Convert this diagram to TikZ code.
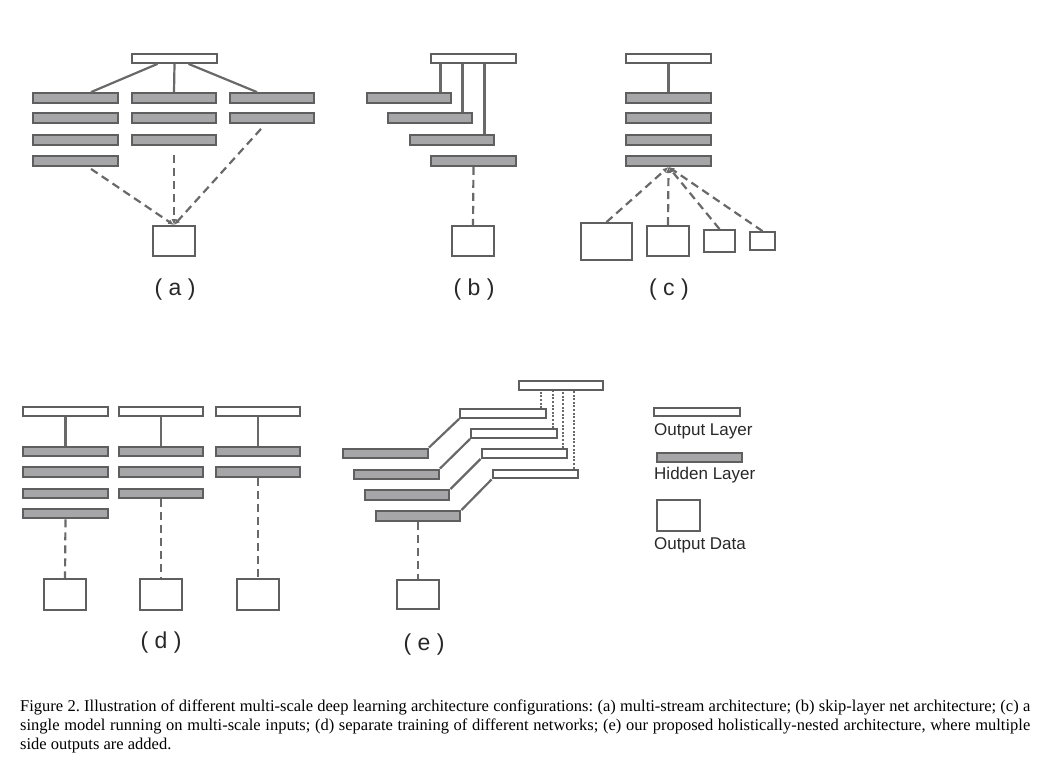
\documentclass[tikz,border=0pt]{standalone}
\usepackage{fontspec}
\setmainfont{Liberation Serif}
\newfontfamily\labelfont{Liberation Sans}
\usetikzlibrary{calc,arrows.meta}
\definecolor{hidgray}{RGB}{166,166,168}
\definecolor{rahmen}{RGB}{95,95,95}
\definecolor{linie}{RGB}{105,105,105}
\definecolor{schrift}{RGB}{40,40,40}
\begin{document}
\begin{tikzpicture}[x=1pt, y=-1pt,
	outlayer/.style={draw=rahmen, fill=white, line width=2.3pt, minimum width=84.5pt, minimum height=8.5pt, inner sep=0pt},
	hidlayer/.style={outlayer, fill=hidgray, minimum height=9.5pt},
	outdata/.style={draw=rahmen, fill=white, line width=2.3pt, minimum width=41.5pt, minimum height=29.5pt, inner sep=0pt},
	conn/.style={draw=linie, line width=2.2pt},
	dashconn/.style={conn, dash pattern=on 8pt off 5pt},
	dotconn/.style={draw=linie, line width=2pt, dash pattern=on 2pt off 1.6pt},
	pfeil/.style={-{Latex[length=6pt,width=5pt]}},
	sublabel/.style={font=\labelfont\fontsize{23}{26}\selectfont, text=schrift},
	legtext/.style={font=\labelfont\fontsize{17}{20}\selectfont, text=schrift, anchor=west, inner sep=0pt}]
	\useasboundingbox (0,0) rectangle (1051,774);

	% (a)
	\node[outlayer] (oa) at (174.5,58.5) {};
	\node[hidlayer] (a11) at (75.5,98) {};\node[hidlayer] (a12) at (75.5,118) {};
	\node[hidlayer] (a13) at (75.5,140) {};\node[hidlayer] (a14) at (75.5,161) {};
	\node[hidlayer] (a21) at (174,98) {};\node[hidlayer] (a22) at (174,118) {};
	\node[hidlayer] (a23) at (174,140) {};
	\node[hidlayer] (a31) at (272,98) {};\node[hidlayer] (a32) at (272,118) {};
	\node[outdata] (da) at (174,241) {};
	\draw[conn] ($(oa.south)+(-17,0)$) -- ($(a11.north)+(15.5,0)$);%links
	\draw[conn] (oa.south) -- (a21.north);%mitte
	\draw[conn] ($(oa.south)+(14,0)$) -- ($(a31.north)+(-15,0)$);%rechts
	\draw[dashconn, pfeil] ($(a14.south)+(15.5,2)$) -- (da.north);
	\draw[dashconn, pfeil] ($(a23.south)+(0,9)$) -- (da.north);
	\draw[dashconn, pfeil] ($(a32.south)+(-11,5)$) -- (da.north);
	\node[sublabel] (la) at (175,290) {( a )};

	% (b)
	\node[outlayer] (ob) at (473.5,58.5) {};
	\node[hidlayer] (b1) at (409,98) {};
	\node[hidlayer] (b2) at (430,118) {};
	\node[hidlayer] (b3) at (452,140) {};
	\node[hidlayer] (b4) at (473.5,161) {};
	\node[outdata] (db) at (473,241) {};
	\draw[conn] ($(b1.north east)+(-12,0)$) coordinate (sb1) -- (sb1 |- ob.south);
	\draw[conn] ($(b2.north east)+(-11,0)$) coordinate (sb2) -- (sb2 |- ob.south);
	\draw[conn] ($(b3.north east)+(-11,0)$) coordinate (sb3) -- (sb3 |- ob.south);
	\draw[dashconn] (b4.south) -- (db.north);
	\node[sublabel] (lb) at (474,290) {( b )};

	% (c)
	\node[outlayer] (oc) at (668.5,58.5) {};
	\node[hidlayer] (c1) at (668.5,98) {};\node[hidlayer] (c2) at (668.5,118) {};
	\node[hidlayer] (c3) at (668.5,140) {};\node[hidlayer] (c4) at (668.5,161) {};
	\node[outdata, minimum width=50.5pt, minimum height=36.5pt] (dc1) at (606.5,241.5) {};
	\node[outdata] (dc2) at (668,241) {};
	\node[outdata, minimum width=30.5pt, minimum height=21.5pt] (dc3) at (719.5,241) {};
	\node[outdata, minimum width=24.5pt, minimum height=17.5pt] (dc4) at (762.5,241) {};
	\draw[conn] (oc.south) -- (c1.north);
	\draw[dashconn, pfeil] (dc1.north) -- (c4.south);
	\draw[dashconn, pfeil] (dc2.north) -- (c4.south);
	\draw[dashconn, pfeil] (dc3.north) -- (c4.south);
	\draw[dashconn, pfeil] (dc4.north) -- (c4.south);
	\node[sublabel] (lc) at (669,290) {( c )};

	% (d)
	\node[outlayer] (od1) at (65.5,411.5) {};
	\node[outlayer] (od2) at (161,411.5) {};
	\node[outlayer] (od3) at (258,411.5) {};
	\node[hidlayer] (d11) at (65.5,451.5) {};\node[hidlayer] (d12) at (65.5,472) {};
	\node[hidlayer] (d13) at (65.5,493.5) {};\node[hidlayer] (d14) at (65.5,513.5) {};
	\node[hidlayer] (d21) at (161,451.5) {};\node[hidlayer] (d22) at (161,472) {};
	\node[hidlayer] (d23) at (161,493.5) {};
	\node[hidlayer] (d31) at (258,451.5) {};\node[hidlayer] (d32) at (258,472) {};
	\node[outdata, minimum height=30.5pt] (dd1) at (65,594.5) {};
	\node[outdata, minimum height=30.5pt] (dd2) at (161,594.5) {};
	\node[outdata, minimum height=30.5pt] (dd3) at (258,594.5) {};
	\draw[conn] (od1.south) -- (d11.north);
	\draw[conn] (od2.south) -- (d21.north);
	\draw[conn] (od3.south) -- (d31.north);
	\draw[dashconn] (d14.south) -- (dd1.north);
	\draw[dashconn] (d23.south) -- (dd2.north);
	\draw[dashconn] (d32.south) -- (dd3.north);
	\node[sublabel] (ld) at (161,643) {( d )};

	% (e)
	\node[outlayer] (oe) at (561,385.5) {};
	\node[outlayer, minimum width=85.5pt] (s1) at (503,413.5) {};
	\node[outlayer, minimum width=85.5pt] (s2) at (514,433.5) {};
	\node[outlayer, minimum width=85.5pt] (s3) at (524.5,453.5) {};
	\node[outlayer, minimum width=85.5pt] (s4) at (535.5,474) {};
	\node[hidlayer] (h1) at (385.5,453.5) {};
	\node[hidlayer] (h2) at (396.5,474.5) {};
	\node[hidlayer] (h3) at (407,495) {};
	\node[hidlayer] (h4) at (418,516) {};
	\node[outdata, minimum height=28.5pt] (de) at (418,594.5) {};
	\draw[conn] (h1.north east) -- (s1.south west);
	\draw[conn] (h2.north east) -- (s2.south west);
	\draw[conn] (h3.north east) -- (s3.south west);
	\draw[conn] (h4.north east) -- (s4.south west);
	\draw[dotconn] ($(s1.north east)+(-6,0)$) coordinate (se1) -- (se1 |- oe.south);
	\draw[dotconn] ($(s2.north east)+(-5,0)$) coordinate (se2) -- (se2 |- oe.south);
	\draw[dotconn] ($(s3.north east)+(-5,0)$) coordinate (se3) -- (se3 |- oe.south);
	\draw[dotconn] ($(s4.north east)+(-5,0)$) coordinate (se4) -- (se4 |- oe.south);
	\draw[dashconn] (h4.south) -- (de.north);
	\node[sublabel] (le) at (424,645) {( e )};

	% Legende
	\node[outlayer, minimum width=85.5pt, minimum height=8pt] (lo) at (697,412) {};
	\node[legtext] (to) at (654,431) {Output Layer};
	\node[hidlayer, minimum height=9pt] (lh) at (699.5,457.5) {};
	\node[legtext] (th) at (654,475) {Hidden Layer};
	\node[outdata, minimum width=42.5pt, minimum height=30.5pt] (ldat) at (678.5,515.5) {};
	\node[legtext] (td) at (654,545) {Output Data};

	% Bildunterschrift
	\node[anchor=north west, inner sep=0pt, text width=1010pt, align=justify,
		font=\fontsize{16.5}{19}\selectfont\frenchspacing] (cap) at (20,700)
		{Figure 2. Illustration of different multi-scale deep learning architecture configurations: (a) multi-stream architecture; (b) skip-layer net architecture; (c) a\linebreak single model running on multi-scale inputs; (d) separate training of different networks; (e) our proposed holistically-nested architecture, where multiple\linebreak side outputs are added.};
\end{tikzpicture}
\end{document}
